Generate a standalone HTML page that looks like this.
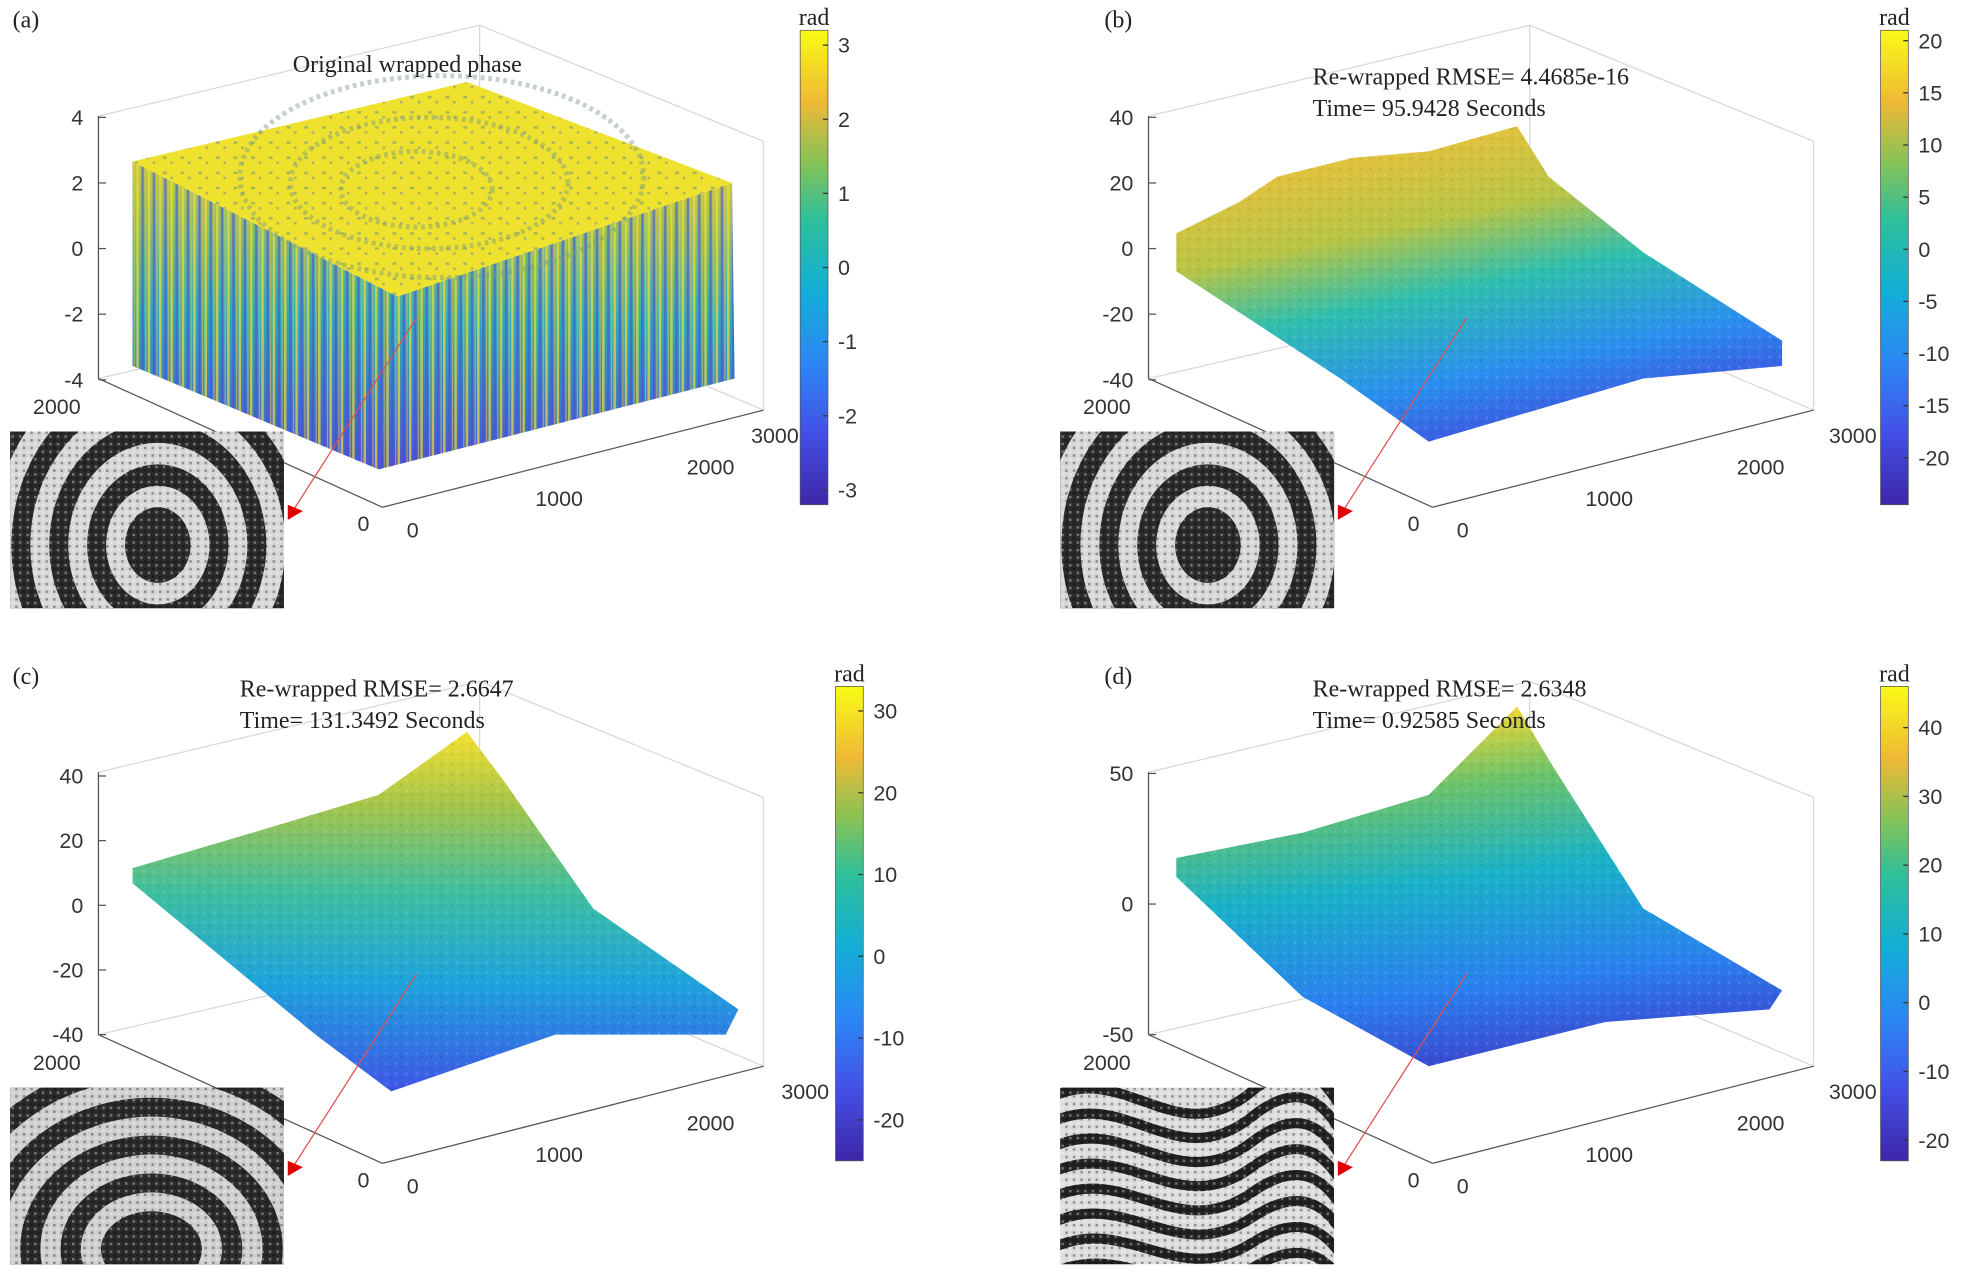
<!DOCTYPE html>
<html><head><meta charset="utf-8"><style>
html,body{margin:0;padding:0;background:#fff;overflow:hidden;width:1979px;height:1287px}
svg{display:block;position:absolute;left:0;top:0}
text{font-family:"Liberation Serif",serif;fill:#222}
.tk{font-family:"Liberation Sans",sans-serif;font-size:17px;fill:#333}
</style></head><body>
<svg id="fig" width="1979" height="1287" viewBox="0 0 1568 1020" preserveAspectRatio="none" xmlns="http://www.w3.org/2000/svg">
<defs>
<linearGradient id="parula" x1="0" y1="1" x2="0" y2="0">
<stop offset="0" stop-color="#3e26a8"/><stop offset="0.15" stop-color="#4350e6"/>
<stop offset="0.3" stop-color="#2c87f5"/><stop offset="0.45" stop-color="#13aed6"/>
<stop offset="0.6" stop-color="#2ebf9b"/><stop offset="0.72" stop-color="#86c257"/>
<stop offset="0.85" stop-color="#efb935"/><stop offset="1" stop-color="#f9fb15"/>
</linearGradient>
<linearGradient id="surfB" x1="0.3" y1="0" x2="0.7" y2="1">
<stop offset="0" stop-color="#f2c03a"/><stop offset="0.3" stop-color="#b8c545"/>
<stop offset="0.5" stop-color="#2fbfae"/><stop offset="0.75" stop-color="#2a8ef0"/><stop offset="1" stop-color="#4540d8"/>
</linearGradient>
<linearGradient id="surfC" x1="0.6" y1="0" x2="0.6" y2="1">
<stop offset="0" stop-color="#f5e030"/><stop offset="0.2" stop-color="#a7c54a"/>
<stop offset="0.45" stop-color="#3dbfa0"/><stop offset="0.7" stop-color="#1ea3de"/><stop offset="1" stop-color="#3f55e6"/>
</linearGradient>
<linearGradient id="surfD" x1="0.5" y1="0" x2="0.7" y2="1">
<stop offset="0" stop-color="#f9d830"/><stop offset="0.2" stop-color="#6cc36a"/>
<stop offset="0.45" stop-color="#19b2c8"/><stop offset="0.75" stop-color="#2a80f0"/><stop offset="1" stop-color="#3f3cc8"/>
</linearGradient>
<linearGradient id="sideA" x1="0" y1="0" x2="0" y2="1">
<stop offset="0" stop-color="#c8c840"/><stop offset="0.5" stop-color="#2eaab8"/><stop offset="1" stop-color="#4a4fd8"/>
</linearGradient>
<pattern id="stripes" width="9" height="10" patternUnits="userSpaceOnUse">
<rect x="0" y="0" width="2" height="10" fill="#f0e030" opacity="0.7"/>
<rect x="4" y="0" width="2" height="10" fill="#4650d8" opacity="0.6"/>
<rect x="7" y="0" width="1" height="10" fill="#e8c640" opacity="0.6"/>
</pattern>
<pattern id="topnoise" width="14" height="12" patternUnits="userSpaceOnUse">
<rect width="14" height="12" fill="#efe22e"/>
<rect x="3" y="4" width="3" height="2" fill="#5a8a8a" opacity="0.5"/>
<rect x="9" y="8" width="2" height="2" fill="#6a7ab0" opacity="0.5"/>
</pattern>
<pattern id="snoise" width="8" height="8" patternUnits="userSpaceOnUse">
<rect x="1" y="2" width="2" height="2" fill="#fff" opacity="0.12"/><rect x="5" y="5" width="2" height="2" fill="#000" opacity="0.08"/>
</pattern>
<pattern id="noise" width="6" height="6" patternUnits="userSpaceOnUse">
<rect x="0" y="0" width="2" height="2" fill="#000" opacity="0.35"/><rect x="3" y="3" width="2" height="2" fill="#fff" opacity="0.35"/>
</pattern>
<clipPath id="inclip"><rect x="8" y="342" width="217" height="140"/></clipPath>
</defs>
</svg>
<script>
// ---- data (tick labels) ----
const panelLabels = ["(a)","(b)","(c)","(d)"];
const zTicksA = [4,2,0,-2,-4];
const zTicksB = [40,20,0,-20,-40];
const zTicksC = [40,20,0,-20,-40];
const zTicksD = [50,0,-50];
const cbTicksA = [3,2,1,0,-1,-2,-3];
const cbTicksB = [20,15,10,5,0,-5,-10,-15,-20];
const cbTicksC = [30,20,10,0,-10,-20];
const cbTicksD = [40,30,20,10,0,-10,-20];
const cbRangeA = [-3.2,3.2], cbRangeB = [-24.5,21], cbRangeC = [-25,33], cbRangeD = [-23,46];
const zRangeA = [-4,4], zRangeB = [-40,40], zRangeC = [-40,40], zRangeD = [-50,50];
const xTicks = ["0","1000","2000","3000"];
const yTicks = ["0","2000"];
const titles = [["Original wrapped phase"],["Re-wrapped RMSE= 4.4685e-16","Time= 95.9428 Seconds"],["Re-wrapped RMSE= 2.6647","Time= 131.3492 Seconds"],["Re-wrapped RMSE= 2.6348","Time= 0.92585 Seconds"]];

const NS="http://www.w3.org/2000/svg";
const svg=document.getElementById('fig');
function el(tag,attrs,parent,txt){const e=document.createElementNS(NS,tag);for(const k in attrs)e.setAttribute(k,attrs[k]);if(txt!==undefined)e.textContent=txt;(parent||svg).appendChild(e);return e;}

const panels=[
 {off:[0,0],zt:zTicksA,zr:zRangeA,zy:[301,93],cb:cbTicksA,cr:cbRangeA,cy:[400,24],cbx:634,x3:614,tpos:[[232,57]],surf:'a',rings:true},
 {off:[832,0],zt:zTicksB,zr:zRangeB,zy:[301,93],cb:cbTicksB,cr:cbRangeB,cy:[400,24],cbx:658,x3:636,tpos:[[208,67],[208,92]],surf:'b',rings:true},
 {off:[0,520],zt:zTicksC,zr:zRangeC,zy:[300,95],cb:cbTicksC,cr:cbRangeC,cy:[400,24],cbx:662,x3:638,tpos:[[190,32],[190,57]],surf:'c',rings:false},
 {off:[832,520],zt:zTicksD,zr:zRangeD,zy:[300,93],cb:cbTicksD,cr:cbRangeD,cy:[400,24],cbx:658,x3:636,tpos:[[208,32],[208,57]],surf:'d',rings:false},
];
const surfPts={
 b:"100,185 150,160 180,140 240,125 300,120 370,100 395,140 470,200 580,270 580,290 470,300 300,350 230,300 100,215",
 c:"105,168 200,140 300,110 370,60 400,100 470,200 585,280 575,300 440,300 310,345 250,300 105,180",
 d:"100,160 200,140 300,110 370,40 400,90 470,200 580,265 570,280 440,290 300,325 200,270 100,175"
};
panels.forEach((p,i)=>{
 const g=el('g',{transform:`translate(${p.off[0]},${p.off[1]})`});
 
 
 const gr=el('g',{stroke:'#d8d8d8','stroke-width':1,fill:'none'},g);
 
 [[78,300,78,92],[380,230,380,20],[605,325,605,112],[78,92,380,20],[380,20,605,112],[78,300,380,230],[380,230,605,325]].forEach(l=>el('line',{x1:l[0],y1:l[1],x2:l[2],y2:l[3]},gr));
 const ax=el('g',{stroke:'#555','stroke-width':1,fill:'none'},g);
 
 [[78,92,78,300],[78,300,303,402],[303,402,605,325]].forEach(l=>el('line',{x1:l[0],y1:l[1],x2:l[2],y2:l[3]},ax));
 if(p.surf==='a'){
  const s=el('g',{},g);
  el('polygon',{points:"105,128 315,235 300,372 105,290",fill:'url(#sideA)'},s);
  el('polygon',{points:"105,128 315,235 300,372 105,290",fill:'url(#stripes)'},s);
  el('polygon',{points:"315,235 580,145 582,300 300,372",fill:'url(#sideA)'},s);
  el('polygon',{points:"315,235 580,145 582,300 300,372",fill:'url(#stripes)'},s);
  el('polygon',{points:"105,128 370,65 580,145 315,235",fill:'url(#topnoise)'},s);
  [[330,150,60,30],[340,145,110,52],[350,140,160,80]].forEach(e=>el('ellipse',{cx:e[0],cy:e[1],rx:e[2],ry:e[3],fill:'none',stroke:'#7a9a80','stroke-width':4,opacity:0.45,'stroke-dasharray':'3 3'},s));
 } else {
  const s=el('polygon',{points:surfPts[p.surf],fill:'url(#surf'+p.surf.toUpperCase()+')'},g);
  
  el('polygon',{points:surfPts[p.surf],fill:'url(#snoise)'},g);
 }
 const zs=v=>p.zy[0]+(v-p.zr[0])/(p.zr[1]-p.zr[0])*(p.zy[1]-p.zy[0]);
 p.zt.forEach(v=>{const t=el('text',{x:66,y:zs(v)+6,'text-anchor':'end',class:'tk'},g,String(v));
  
  el('line',{x1:78,y1:zs(v),x2:84,y2:zs(v),stroke:'#555'},g);});
 [[288,421,yTicks[0]],[45,328,yTicks[1]],[327,426,xTicks[0]],[443,401,xTicks[1]],[563,376,xTicks[2]],[p.x3,351,xTicks[3]]].forEach(a=>{
  const t=el('text',{x:a[0],y:a[1],'text-anchor':'middle',class:'tk'},g,a[2]);
  });
 const cx=p.cbx;
 const cb=el('rect',{x:cx,y:p.cy[1],width:22,height:p.cy[0]-p.cy[1],fill:'url(#parula)',stroke:'#555','stroke-width':0.6},g);
 
 const cs=v=>p.cy[0]+(v-p.cr[0])/(p.cr[1]-p.cr[0])*(p.cy[1]-p.cy[0]);
 p.cb.forEach(v=>{el('line',{x1:cx+18,y1:cs(v),x2:cx+22,y2:cs(v),stroke:'#333'},g);
  const t=el('text',{x:cx+30,y:cs(v)+6,class:'tk'},g,String(v));
  });
 const r=el('text',{x:cx+11,y:20,'text-anchor':'middle','font-size':19},g,'rad');
 
 titles[i].forEach((s,k)=>{const t=el('text',{x:p.tpos[k][0],y:p.tpos[k][1],'font-size':19},g,s);
  });
 const lb=el('text',{x:10+(i%2?33:0),y:22,'font-size':19},g,panelLabels[i]);
 
 const ins=el('g',{'clip-path':'url(#inclip)'},g);
 
 el('rect',{x:8,y:342,width:217,height:140,fill:'#ddd'},ins);
 if(p.rings){
  for(let k=11;k>=0;k--){el('ellipse',{cx:125,cy:432,rx:26+k*15,ry:30+k*17,fill:k%2?'#d8d8d8':'#2a2a2a'},ins);}
 } else if(i===2){
  for(let k=11;k>=0;k--){el('ellipse',{cx:120,cy:470,rx:40+k*16,ry:30+k*15,fill:k%2?'#d0d0d0':'#2a2a2a'},ins);}
 } else {
  for(let k=0;k<9;k++){el('path',{d:`M0,${350+k*20} C60,${320+k*20} 100,${395+k*18} 160,${345+k*20} S230,${380+k*18} 240,${360+k*20}`,stroke:'#222','stroke-width':8,fill:'none'},ins);}
 }
 el('rect',{x:8,y:342,width:217,height:140,fill:'url(#noise)'},ins);
 const pl=el('line',{x1:232,y1:405,x2:330,y2:252,stroke:'#e05050','stroke-width':1},g);
 
 el('polygon',{points:"228,400 240,405 228,412",fill:'#e00000'},g);
});
</script>
</body></html>
